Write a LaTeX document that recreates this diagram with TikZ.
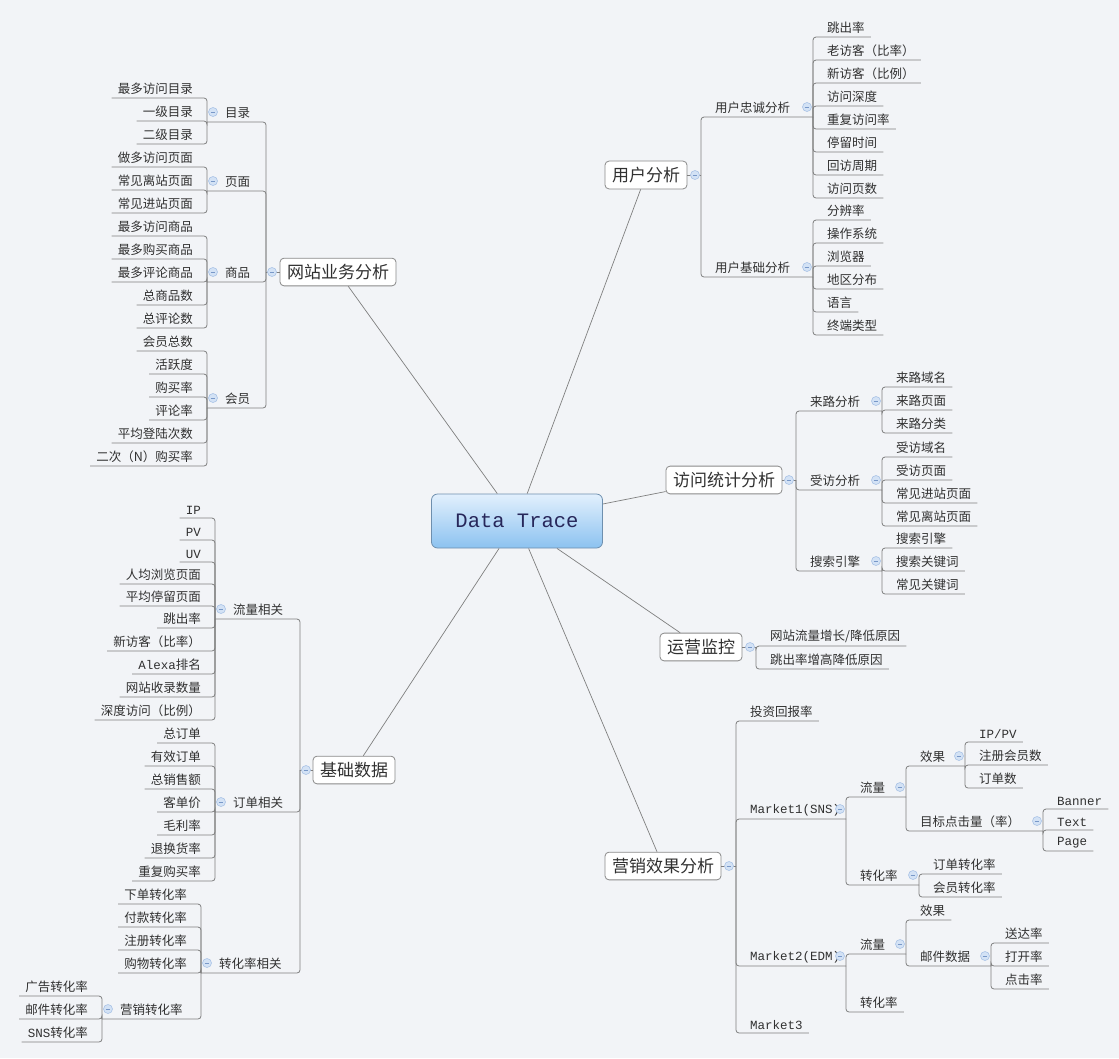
\documentclass[tikz,border=0pt]{standalone}
\usepackage{fontspec}
\setmainfont{Noto Sans CJK SC}
\newfontfamily\mono{Liberation Mono}
\usetikzlibrary{calc}
\definecolor{bgc}{HTML}{F2F4F7}
\definecolor{lnc}{HTML}{7F7F7F}
\definecolor{txc}{HTML}{303030}
\definecolor{boxc}{HTML}{8A8A8A}
\definecolor{cfc}{HTML}{D3E2F5}
\definecolor{cdc}{HTML}{A9C3E6}
\definecolor{cmc}{HTML}{7898C8}
\definecolor{dtt}{HTML}{E2F0FD}
\definecolor{dtb}{HTML}{8CC2F0}
\definecolor{dtd}{HTML}{6E8FAE}
\tikzset{x=1pt,y=-1pt,
 ln/.style={draw=lnc,line width=0.8pt,rounded corners=3pt},
 leaf/.style={font=\fontsize{12.5}{14}\selectfont,text=txc,inner xsep=6pt,inner ysep=3pt},
 sub/.style={leaf,inner xsep=2pt},
 topbox/.style={draw=boxc,fill=white,rounded corners=4pt,font=\fontsize{17}{20}\selectfont,inner xsep=7pt,inner ysep=6pt,text=txc,line width=0.8pt},
 circ/.style={circle,minimum size=9pt,inner sep=0pt,draw=cdc,fill=cfc,line width=0.6pt,
   path picture={\draw[cmc,line width=0.8pt]([xshift=-2.4pt]path picture bounding box.center)--([xshift=2.4pt]path picture bounding box.center);}}
}
\newcommand\leafR[5]{\node[leaf,anchor=south west] (#4) at (#2+8,#3) {#5};\draw[ln] (#1) |- (#4.south east);}
\newcommand\leafL[5]{\node[leaf,anchor=south east] (#4) at (#2-8,#3) {#5};\draw[ln] (#1) |- (#4.south west);}
\newcommand\subR[6]{\node[sub,anchor=south west] (#5) at (#2+12,#3) {#6};\coordinate (#5-s) at (#4,#3);\draw[ln] (#1) |- (#5-s);\node[circ] (#5-c) at (#4-6,#3-10) {};}
\newcommand\subL[6]{\node[sub,anchor=south west] (#5) at (#4+16,#3) {#6};\coordinate (#5-s) at (#4,#3);\draw[ln] (#1) |- (#5-s);\node[circ] (#5-c) at (#4+6,#3-10) {};}
\begin{document}
\begin{tikzpicture}
\fill[bgc] (0,0) rectangle (1119,1058);
% center
\node[draw=dtd,top color=dtt,bottom color=dtb,rounded corners=6pt,minimum width=171pt,minimum height=54pt,font=\mono\fontsize{20.5}{24}\selectfont,text=txc!80!blue,line width=0.8pt] (dt) at (517,521) {Data Trace};
% top boxes
\node[topbox] (wz) at (338,272) {网站业务分析};
\node[topbox] (yh) at (646,175) {用户分析};
\node[topbox] (fw) at (724,480) {访问统计分析};
\node[topbox] (yy) at (701,647) {运营监控};
\node[topbox] (yx) at (663,866) {营销效果分析};
\node[topbox] (jc) at (354,770) {基础数据};
\foreach \b in {wz,yh,fw,yy,yx,jc} \draw[lnc,line width=0.7pt] (dt) -- (\b);

% ===== 网站业务分析 =====
\coordinate (wzS) at (266,272);
\draw[ln] (wz.west) -- (wzS);
\node[circ] at (272,272) {};
\subL{wzS}{266}{122}{207}{ml}{目录}
\subL{wzS}{266}{191}{207}{ym}{页面}
\subL{wzS}{266}{282}{207}{sp}{商品}
\subL{wzS}{266}{408}{207}{hy}{会员}
\foreach \y/\t [count=\i] in {98/最多访问目录,121/一级目录,144/二级目录} {\leafL{ml-s}{207}{\y}{mlx\i}{\t}}
\foreach \y/\t [count=\i] in {167/做多访问页面,190/常见离站页面,213/常见进站页面} {\leafL{ym-s}{207}{\y}{ymx\i}{\t}}
\foreach \y/\t [count=\i] in {236/最多访问商品,259/最多购买商品,282/最多评论商品,305/总商品数,328/总评论数} {\leafL{sp-s}{207}{\y}{spx\i}{\t}}
\foreach \y/\t [count=\i] in {351/会员总数,374/活跃度,397/购买率,420/评论率,443/平均登陆次数,466/二次（N）购买率} {\leafL{hy-s}{207}{\y}{hyx\i}{\t}}

% ===== 用户分析 =====
\coordinate (yhS) at (701,175);
\draw[ln] (yh.east) -- (yhS);
\node[circ] at (695,175) {};
\subR{yhS}{701}{117}{813}{zc}{用户忠诚分析}
\subR{yhS}{701}{277}{813}{jcf}{用户基础分析}
\foreach \y/\t [count=\i] in {37/跳出率,60/老访客（比率）,83/新访客（比例）,106/访问深度,129/重复访问率,152/停留时间,175/回访周期,198/访问页数} {\leafR{zc-s}{813}{\y}{zcx\i}{\t}}
\foreach \y/\t [count=\i] in {220/分辨率,243/操作系统,266/浏览器,289/地区分布,312/语言,335/终端类型} {\leafR{jcf-s}{813}{\y}{jcfx\i}{\t}}

% ===== 访问统计分析 =====
\coordinate (fwS) at (796,480);
\draw[ln] (fw.east) -- (fwS);
\node[circ] at (789,480) {};
\subR{fwS}{796}{411}{882}{ll}{来路分析}
\subR{fwS}{796}{490}{882}{sf}{受访分析}
\subR{fwS}{796}{571}{882}{ss}{搜索引擎}
\foreach \y/\t [count=\i] in {387/来路域名,410/来路页面,433/来路分类} {\leafR{ll-s}{882}{\y}{llx\i}{\t}}
\foreach \y/\t [count=\i] in {457/受访域名,480/受访页面,503/常见进站页面,526/常见离站页面} {\leafR{sf-s}{882}{\y}{sfx\i}{\t}}
\foreach \y/\t [count=\i] in {548/搜索引擎,571/搜索关键词,594/常见关键词} {\leafR{ss-s}{882}{\y}{ssx\i}{\t}}

% ===== 运营监控 =====
\coordinate (yyS) at (756,647);
\draw[ln] (yy.east) -- (yyS);
\node[circ] at (750,647) {};
\leafR{yyS}{756}{646}{yy1}{网站流量增长/降低原因}
\leafR{yyS}{756}{669}{yy2}{跳出率增高降低原因}

% ===== 营销效果分析 =====
\coordinate (yxS) at (736,866);
\draw[ln] (yx.east) -- (yxS);
\node[circ] at (729,866) {};
\leafR{yxS}{736}{721}{tz}{投资回报率}
\subR{yxS}{736}{819}{846}{m1}{\mono Market1(SNS)}
\subR{yxS}{736}{966}{846}{m2}{\mono Market2(EDM)}
\leafR{yxS}{736}{1033}{m3}{\mono Market3}
\subR{m1-s}{846}{797}{906}{ll1}{流量}
\subR{m1-s}{846}{885}{919}{zh1}{转化率}
\subR{ll1-s}{906}{766}{965}{xg1}{效果}
\subR{ll1-s}{906}{831}{1043}{mb}{目标点击量（率）}
\leafR{xg1-s}{965}{742}{xga}{\mono IP/PV}
\leafR{xg1-s}{965}{765}{xgb}{注册会员数}
\leafR{xg1-s}{965}{788}{xgc}{订单数}
\leafR{mb-s}{1043}{809}{mba}{\mono Banner}
\leafR{mb-s}{1043}{830}{mbb}{\mono Text}
\leafR{mb-s}{1043}{851}{mbc}{\mono Page}
\leafR{zh1-s}{919}{874}{zha}{订单转化率}
\leafR{zh1-s}{919}{897}{zhb}{会员转化率}
\subR{m2-s}{846}{954}{906}{ll2}{流量}
\leafR{m2-s}{846}{1012}{zh2}{转化率}
\leafR{ll2-s}{906}{920}{xg2}{效果}
\subR{ll2-s}{906}{966}{991}{yj}{邮件数据}
\foreach \y/\t [count=\i] in {943/送达率,966/打开率,989/点击率} {\leafR{yj-s}{991}{\y}{yjx\i}{\t}}

% ===== 基础数据 =====
\coordinate (jcS) at (300,770);
\draw[ln] (jc.west) -- (jcS);
\node[circ] at (306,770) {};
\subL{jcS}{300}{619}{215}{lx}{流量相关}
\subL{jcS}{300}{812}{215}{dd}{订单相关}
\subL{jcS}{300}{973}{201}{zx}{转化率相关}
\foreach \y/\t [count=\i] in {518/{\mono IP},540/{\mono PV},562/{\mono UV},584/人均浏览页面,606/平均停留页面,628/跳出率,651/新访客（比率）,674/{{\mono Alexa}排名},697/网站收录数量,720/深度访问（比例）} {\leafL{lx-s}{215}{\y}{lxx\i}{\t}}
\foreach \y/\t [count=\i] in {743/总订单,766/有效订单,789/总销售额,812/客单价,835/毛利率,858/退换货率,881/重复购买率} {\leafL{dd-s}{215}{\y}{ddx\i}{\t}}
\foreach \y/\t [count=\i] in {904/下单转化率,927/付款转化率,950/注册转化率,973/购物转化率} {\leafL{zx-s}{201}{\y}{zxx\i}{\t}}
\subL{zx-s}{201}{1019}{102}{yxz}{营销转化率}
\foreach \y/\t [count=\i] in {996/广告转化率,1019/邮件转化率,1042/{{\mono SNS}转化率}} {\leafL{yxz-s}{102}{\y}{yzx\i}{\t}}
\end{tikzpicture}
\end{document}
